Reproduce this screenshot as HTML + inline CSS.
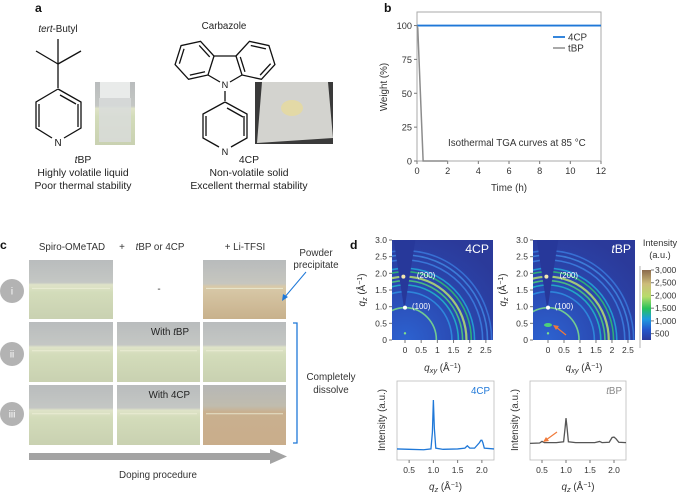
<!DOCTYPE html>
<html><head><meta charset="utf-8"><style>
body{margin:0;background:#fff;width:685px;height:495px;overflow:hidden}
svg{font-family:"Liberation Sans",sans-serif;display:block}
</style></head><body>
<svg id="fig" width="685" height="495" viewBox="0 0 685 495">
<defs>
 <linearGradient id="vial" x1="0" y1="0" x2="0" y2="1">
  <stop offset="0" stop-color="#b9bcbd"/><stop offset="0.38" stop-color="#c4c7c4"/><stop offset="0.42" stop-color="#dfe3c8"/><stop offset="0.55" stop-color="#d3dcba"/><stop offset="1" stop-color="#c9d1b1"/></linearGradient>
 <linearGradient id="vialB" x1="0" y1="0" x2="0" y2="1">
  <stop offset="0" stop-color="#b8bbbc"/><stop offset="0.4" stop-color="#c6c6bf"/><stop offset="0.45" stop-color="#d8c9a8"/><stop offset="1" stop-color="#c8b18c"/></linearGradient>
 <linearGradient id="vialC" x1="0" y1="0" x2="0" y2="1">
  <stop offset="0" stop-color="#b6b7b6"/><stop offset="0.35" stop-color="#c0bcae"/><stop offset="0.45" stop-color="#c9b08f"/><stop offset="1" stop-color="#c9ad8b"/></linearGradient>
 <linearGradient id="cbar" x1="0" y1="1" x2="0" y2="0">
  <stop offset="0" stop-color="#2b3a9c"/><stop offset="0.15" stop-color="#2457cc"/><stop offset="0.3" stop-color="#1f9be0"/><stop offset="0.45" stop-color="#27c25a"/><stop offset="0.62" stop-color="#b8dc6a"/><stop offset="0.8" stop-color="#cdbd7a"/><stop offset="1" stop-color="#8b6a4c"/></linearGradient>
 <radialGradient id="hmbg" cx="0.13" cy="1" r="1.1">
  <stop offset="0" stop-color="#2d62d0"/><stop offset="0.5" stop-color="#2a48b0"/><stop offset="1" stop-color="#2b3a9a"/></radialGradient>
 <clipPath id="c1"><rect x="392" y="240" width="101" height="100"/></clipPath>
 <clipPath id="c2"><rect x="533" y="240" width="102" height="100"/></clipPath>
</defs>
<g id="panelA"></g>
<g id="panelB"></g>
<g id="panelC"></g>
<g id="panelD"></g>
</svg>
<script>
// ---- Panel b data ----
const tgaXTicks=[0,2,4,6,8,10,12];
const tgaYTicks=[0,25,50,75,100];
const time4CP=[0,12];
const weight4CP=[100,100];
const timeTBP=[0,0.05,0.4,2];
const weightTBP=[100,98,0,0];
// ---- Panel d data ----
const qzTBP=[0.25,0.45,0.5,0.55,0.8,0.95,0.98,1.0,1.02,1.05,1.2,1.6,1.7,1.75,1.9,1.96,2.0,2.04,2.1,2.25];
const intTBP=[0.21,0.215,0.235,0.22,0.22,0.23,0.4,0.53,0.42,0.23,0.22,0.22,0.235,0.22,0.225,0.285,0.29,0.27,0.225,0.22];
const qz4CP=[0.25,0.5,0.8,0.95,0.98,1.0,1.02,1.05,1.2,1.5,1.65,1.7,1.75,1.85,1.95,1.98,2.0,2.02,2.05,2.25];
const int4CP=[0.14,0.135,0.13,0.14,0.35,0.76,0.4,0.15,0.135,0.14,0.15,0.18,0.15,0.15,0.22,0.25,0.25,0.22,0.15,0.14];
const lineXTicks=[0.5,1.0,1.5,2.0];
const mapXTicks=[0,0.5,1.0,1.5,2.0,2.5];
const mapYTicks=[0,0.5,1.0,1.5,2.0,2.5,3.0];
const cbarTicks=[500,1000,1500,2000,2500,3000];
const ringRadii=[0.97,1.45,1.65,1.78,1.9,2.05,2.15,2.4,2.55,2.68];
const ringColors=['#7fe08a','#2f8fe0','#21b7c8','#4fcf7a','#b6e070','#2fc070','#22a7d8','#3c7fe0','#3f86e0','#3a78dc'];

const FS=1.22;
const NS='http://www.w3.org/2000/svg';
function el(parent,tag,attrs,text){const e=document.createElementNS(NS,tag);for(const k in attrs)e.setAttribute(k,attrs[k]);if(text!==undefined)e.textContent=text;parent.appendChild(e);return e;}
function txt(parent,x,y,s,size,anchor,fill,name,extra){const e=el(parent,'text',Object.assign({x:x,y:y,'font-size':(size*FS).toFixed(1),'text-anchor':anchor||'middle',fill:fill||'#222'},extra||{}),s);


return e;}
const QZ='<tspan font-style="italic">q</tspan><tspan font-size="7.5" dy="2" font-style="italic">z</tspan><tspan dy="-2"> (Å</tspan><tspan font-size="7" dy="-3">−1</tspan><tspan dy="3">)</tspan>';
const QXY='<tspan font-style="italic">q</tspan><tspan font-size="7.5" dy="2" font-style="italic">xy</tspan><tspan dy="-2"> (Å</tspan><tspan font-size="7" dy="-3">−1</tspan><tspan dy="3">)</tspan>';

// ================= Panel A =================
(function(){
const g=document.getElementById('panelA');
txt(g,35,12,'a',10,'start','#111','panel-label-a',{'font-weight':'bold'});
const ink={stroke:'#111','stroke-width':1.3,fill:'none'};
function poly(pts,close,name){const e=el(g,close?'polygon':'polyline',Object.assign({points:pts.map(p=>p.join(',')).join(' ')},ink));

}
function line(a,b){el(g,'line',Object.assign({x1:a[0],y1:a[1],x2:b[0],y2:b[1]},ink));}
txt(g,58,32,'',8,'middle','#222','tert-butyl-label').innerHTML='<tspan font-style="italic">tert</tspan>-Butyl';
line([58,39],[58,88]);line([36,51],[58,64]);line([81,51],[58,64]);
poly([[58,89],[81,102],[81,128],[64,138]],false,'tbp-ring');
poly([[52,138],[36,128],[36,102],[58,89]],false,'tbp-ring-left');
line([39,104],[39,127]);line([78,104],[78,127]);line([60,95],[76,104]);
txt(g,58,146,'N',8,'middle','#111','tbp-n-atom');
const ph1=el(g,'rect',{x:95,y:82,width:40,height:63,fill:'url(#vial)'});


el(g,'rect',{x:100,y:82,width:30,height:16,fill:'#e9ebea'});
el(g,'rect',{x:99,y:98,width:32,height:44,fill:'#d9dcdc',opacity:0.8});
txt(g,83,163,'',8.5,'middle','#222','tbp-name').innerHTML='<tspan font-style="italic">t</tspan>BP';
txt(g,83,176,'Highly volatile liquid',8.5,'middle','#222','tbp-desc-1');
txt(g,83,189,'Poor thermal stability',8.5,'middle','#222','tbp-desc-2');
txt(g,224,29,'Carbazole',8,'middle','#222','carbazole-label');
const A=[214,56],B=[236,56],C=[242,75],Nn=[225,85],D=[208,75];
function hexFromEdge(p,q,away){const mx=(p[0]+q[0])/2,my=(p[1]+q[1])/2;const dx=q[0]-p[0],dy=q[1]-p[1];const L=Math.hypot(dx,dy);let nx=-dy/L,ny=dx/L;if(nx*(mx-away[0])+ny*(my-away[1])<0){nx=-nx;ny=-ny;}const cx=mx+nx*L*0.866,cy=my+ny*L*0.866;const pts=[];const a0=Math.atan2(p[1]-cy,p[0]-cx);for(let i=0;i<6;i++){const a=a0+i*Math.PI/3;pts.push([cx+L*Math.cos(a),cy+L*Math.sin(a)]);}return {pts,cx,cy};}
const ctr=[225,70];
[[A,D],[B,C]].forEach((e,k)=>{const h=hexFromEdge(e[0],e[1],ctr);poly(h.pts,true,k?'carbazole-right-ring':'carbazole-left-ring');
for(let i=1;i<6;i+=2){const p=h.pts[i],q=h.pts[(i+1)%6];const s=0.78;line([h.cx+(p[0]-h.cx)*s,h.cy+(p[1]-h.cy)*s],[h.cx+(q[0]-h.cx)*s,h.cy+(q[1]-h.cy)*s]);}});
line(A,B);line(C,[230,82]);line(D,[220,82]);
txt(g,225,88,'N',7.5,'middle','#111','carbazole-n-atom');
line([225,91],[225,101]);
poly([[225,102],[247,114],[247,138],[231,147]],false,'pyridine-right');
poly([[219,147],[203,138],[203,114],[225,102]],false,'pyridine-left');
line([206,116],[206,136]);line([244,116],[244,136]);line([227,108],[243,117]);
txt(g,225,155,'N',7.5,'middle','#111','4cp-n-atom');
const ph2=el(g,'rect',{x:255,y:82,width:78,height:62,fill:'#3a3a3a'});


el(g,'polygon',{points:'262,82 328,82 333,138 257,143',fill:'#d3d3cf'});
el(g,'ellipse',{cx:292,cy:108,rx:11,ry:8,fill:'#e3d9a6'});
txt(g,249,163,'4CP',8.5,'middle','#222','4cp-name');
txt(g,249,176,'Non-volatile solid',8.5,'middle','#222','4cp-desc-1');
txt(g,249,189,'Excellent thermal stability',8.5,'middle','#222','4cp-desc-2');
})();

// ================= Panel B =================
(function(){
const g=document.getElementById('panelB');
const L=417,R=601,T=12,Bm=161;
const xs=v=>L+(v-0)/(12-0)*(R-L);
const ys=v=>Bm-v/110*(Bm-T);
txt(g,384,12,'b',10,'start','#111','panel-label-b',{'font-weight':'bold'});
const fr=el(g,'rect',{x:L,y:T,width:R-L,height:Bm-T,fill:'none',stroke:'#aaa','stroke-width':1});


tgaXTicks.forEach(v=>{el(g,'line',{x1:xs(v),x2:xs(v),y1:Bm,y2:Bm+3,stroke:'#777'});txt(g,xs(v),Bm+13,String(v),7.5,'middle','#333','x-tick-'+v);});
tgaYTicks.forEach(v=>{el(g,'line',{x1:L-3,x2:L,y1:ys(v),y2:ys(v),stroke:'#777'});txt(g,L-5,ys(v)+3.5,String(v),7.5,'end','#333','y-tick-'+v);});
txt(g,509,191,'Time (h)',8,'middle','#333','x-axis-title');
txt(g,387,87,'Weight (%)',8,'middle','#333','y-axis-title',{transform:'rotate(-90 387 87)'});
const l1=el(g,'polyline',{points:time4CP.map((t,i)=>xs(t)+','+ys(weight4CP[i])).join(' '),fill:'none',stroke:'#1f78d8','stroke-width':1.8});


const l2=el(g,'polyline',{points:timeTBP.map((t,i)=>xs(t)+','+ys(weightTBP[i])).join(' '),fill:'none',stroke:'#8c8c8c','stroke-width':1.5});


el(g,'line',{x1:553,x2:565,y1:37,y2:37,stroke:'#1f78d8','stroke-width':1.8});
txt(g,568,40.5,'4CP',8,'start','#333','legend-entry-4cp');
el(g,'line',{x1:553,x2:565,y1:48,y2:48,stroke:'#8c8c8c','stroke-width':1.5});
txt(g,568,51.5,'tBP',8,'start','#333','legend-entry-tbp');
txt(g,448,146,'Isothermal TGA curves at 85 °C',8,'start','#333','annotation');
})();

// ================= Panel C =================
(function(){
const g=document.getElementById('panelC');
txt(g,0,249,'c',10,'start','#111','panel-label-c',{'font-weight':'bold'});
txt(g,72,250,'Spiro-OMeTAD',8,'middle','#333','header-spiro');
txt(g,122,250,'+',8,'middle','#333','header-plus');
txt(g,160,250,'',8,'middle','#333','header-additive').innerHTML='<tspan font-style="italic">t</tspan>BP or 4CP';
txt(g,245,250,'+ Li-TFSI',8,'middle','#333','header-litfsi');
const cols=[[29,84],[117,83],[203,83]],rows=[[260,59],[322,60],[385,60]];
const fills=[['url(#vial)',null,'url(#vialB)'],['url(#vial)','url(#vial)','url(#vial)'],['url(#vial)','url(#vial)','url(#vialC)']];
rows.forEach((r,ri)=>cols.forEach((c,ci)=>{if(!fills[ri][ci])return;const e=el(g,'rect',{x:c[0],y:r[0],width:c[1],height:r[1],fill:fills[ri][ci]});


el(g,'line',{x1:c[0]+3,x2:c[0]+c[1]-3,y1:r[0]+r[1]*0.48,y2:r[0]+r[1]*0.48,stroke:'#eef0d8','stroke-width':1,opacity:0.8});}));
txt(g,159,292,'-',8,'middle','#333','empty-cell-dash');
txt(g,189,335,'',8,'end','#222','label-with-tbp').innerHTML='With <tspan font-style="italic">t</tspan>BP';
txt(g,190,398,'With 4CP',8,'end','#222','label-with-4cp');
[['i',291],['ii',354],['iii',414]].forEach(([s,y])=>{const c=el(g,'circle',{cx:12,cy:y,r:12,fill:'#b3b3b3'});


txt(g,12,y+3.5,s,8,'middle','#fff','row-label-'+s);});
el(g,'polyline',{points:'293,323 297,323 297,443 293,443',fill:'none',stroke:'#1f78d8','stroke-width':1.3});
txt(g,331,380,'Completely',8,'middle','#333','completely-dissolve-1');
txt(g,331,393,'dissolve',8,'middle','#333','completely-dissolve-2');
txt(g,316,256,'Powder',8,'middle','#333','powder-precipitate-1');
txt(g,316,268,'precipitate',8,'middle','#333','powder-precipitate-2');
el(g,'line',{x1:306,y1:272,x2:284,y2:298,stroke:'#1f78d8','stroke-width':1});
el(g,'polygon',{points:'282,301 283,294 288,297',fill:'#1f78d8'});
const ar=el(g,'polygon',{points:'29,453 270,453 270,449 287,456.5 270,464 270,460 29,460',fill:'#a3a3a3'});


txt(g,158,478,'Doping procedure',8,'middle','#333','doping-procedure-label');
})();

// ================= Panel D =================
(function(){
const g=document.getElementById('panelD');
txt(g,350,249,'d',10,'start','#111','panel-label-d',{'font-weight':'bold'});
function heatmap(L,R,x0,clip,label,name,tbp){
 const T=240,B=340;const ppu=(R-x0)/2.72;
 const xs=v=>x0+v*ppu, ys=v=>B-v/3*(B-T);
 const hg=el(g,'g',{'clip-path':'url(#'+clip+')'});
 
 
 el(hg,'rect',{x:L,y:T,width:R-L,height:B-T,fill:'url(#hmbg)'});
 ringRadii.forEach((r,i)=>{const rx=r*ppu,ry=r/3*(B-T);const c=el(hg,'ellipse',{cx:x0,cy:B,rx:rx,ry:ry,fill:'none',stroke:ringColors[i],'stroke-width':(i==4?2.2:1.6),opacity:0.85});
 
 });
 el(hg,'polygon',{points:`${xs(-0.02)},${ys(0.9)} ${xs(-0.35)},${T} ${xs(0.32)},${T}`,fill:'#27389a'});
 el(hg,'circle',{cx:xs(-0.05),cy:ys(1.9),r:2,fill:'#f3e6b0'});
 el(hg,'circle',{cx:xs(0),cy:ys(0.97),r:2,fill:'#ffffff'});
 el(hg,'circle',{cx:xs(0),cy:ys(0.2),r:1.2,fill:'#7fe08a'});
 if(tbp){el(hg,'ellipse',{cx:xs(0),cy:ys(0.45),rx:4,ry:2,fill:'#4ed07a'});}
 txt(g,xs(0.65),ys(1.86),'(200)',6.5,'middle','#fff','peak-label-200');
 txt(g,xs(0.5),ys(0.93),'(100)',6.5,'middle','#fff','peak-label-100');
 txt(g,R-4,T+13,'',10,'end','#fff','map-title').innerHTML=label;
 mapXTicks.forEach(v=>{el(g,'line',{x1:xs(v),x2:xs(v),y1:B,y2:B+3,stroke:'#777'});txt(g,xs(v),B+13,String(v),7,'middle','#333','qxy-tick');});
 mapYTicks.forEach(v=>{el(g,'line',{x1:L-3,x2:L,y1:ys(v),y2:ys(v),stroke:'#777'});txt(g,L-5,ys(v)+3,v===0?'0':v.toFixed(1),7,'end','#333','qz-tick');});
 txt(g,(L+R)/2,371,'',8,'middle','#333','qxy-axis-title').innerHTML=QXY;
 txt(g,L-27,290,'',8,'middle','#333','qz-axis-title',{transform:`rotate(-90 ${L-27} 290)`}).innerHTML=QZ;
 if(tbp){el(g,'line',{x1:566,y1:335,x2:556,y2:327,stroke:'#f07a3a','stroke-width':1.2});el(g,'polygon',{points:'553,325 559,326 556,330',fill:'#f07a3a'});}
}
heatmap(392,493,405,'c1','4CP','giwaxs-map-4cp',false);
heatmap(533,635,548,'c2','<tspan font-style="italic">t</tspan>BP','giwaxs-map-tbp',true);
const cb=el(g,'rect',{x:642,y:270,width:9,height:70,fill:'url(#cbar)'});


el(g,'line',{x1:640,x2:640,y1:266,y2:348,stroke:'#ccc','stroke-width':1.5});
const cys=v=>340-(v-250)/(3000-250)*70;
cbarTicks.forEach(v=>{el(g,'line',{x1:651,x2:654,y1:cys(v),y2:cys(v),stroke:'#777'});txt(g,655,cys(v)+3,v.toLocaleString('en-US'),7,'start','#333','colorbar-tick-'+v);});
txt(g,660,246,'Intensity',7.5,'middle','#333','colorbar-title-1');
txt(g,660,258,'(a.u.)',7.5,'middle','#333','colorbar-title-2');
function lineplot(L,R,qs,vals,color,label,name,tbp){
 const T=381,B=460;const ppu=(R-L)/2.0;
 const xs=v=>L+(v-0.25)*ppu, ys=v=>B-v*(B-T);
 el(g,'rect',{x:L,y:T,width:R-L,height:B-T,fill:'none',stroke:'#bbb','stroke-width':0.8});
 const p=el(g,'polyline',{points:qs.map((q,i)=>xs(q)+','+ys(vals[i])).join(' '),fill:'none',stroke:color,'stroke-width':1.3});
 
 
 lineXTicks.forEach(v=>{el(g,'line',{x1:xs(v),x2:xs(v),y1:B,y2:B+3,stroke:'#777'});txt(g,xs(v),B+13,v.toFixed(1),7,'middle','#333','qz-line-tick');});
 txt(g,(L+R)/2,490,'',8,'middle','#333','qz-line-axis-title').innerHTML=QZ;
 txt(g,L-12,420,'Intensity (a.u.)',8,'middle','#333','intensity-axis-title',{transform:`rotate(-90 ${L-12} 420)`});
 txt(g,R-4,394,'',8,'end',color,'line-plot-label').innerHTML=label;
 if(tbp){el(g,'line',{x1:557,y1:432,x2:546,y2:440,stroke:'#f07a3a','stroke-width':1.2});el(g,'polygon',{points:'543,442 546,437 549,441',fill:'#f07a3a'});}
}
lineplot(397,494,qz4CP,int4CP,'#1f78d8','4CP','xrd-line-4cp',false);
lineplot(530,626,qzTBP,intTBP,'#555','<tspan font-style="italic" fill="#888">t</tspan><tspan fill="#888">BP</tspan>','xrd-line-tbp',true);
})();
</script>
</body></html>
